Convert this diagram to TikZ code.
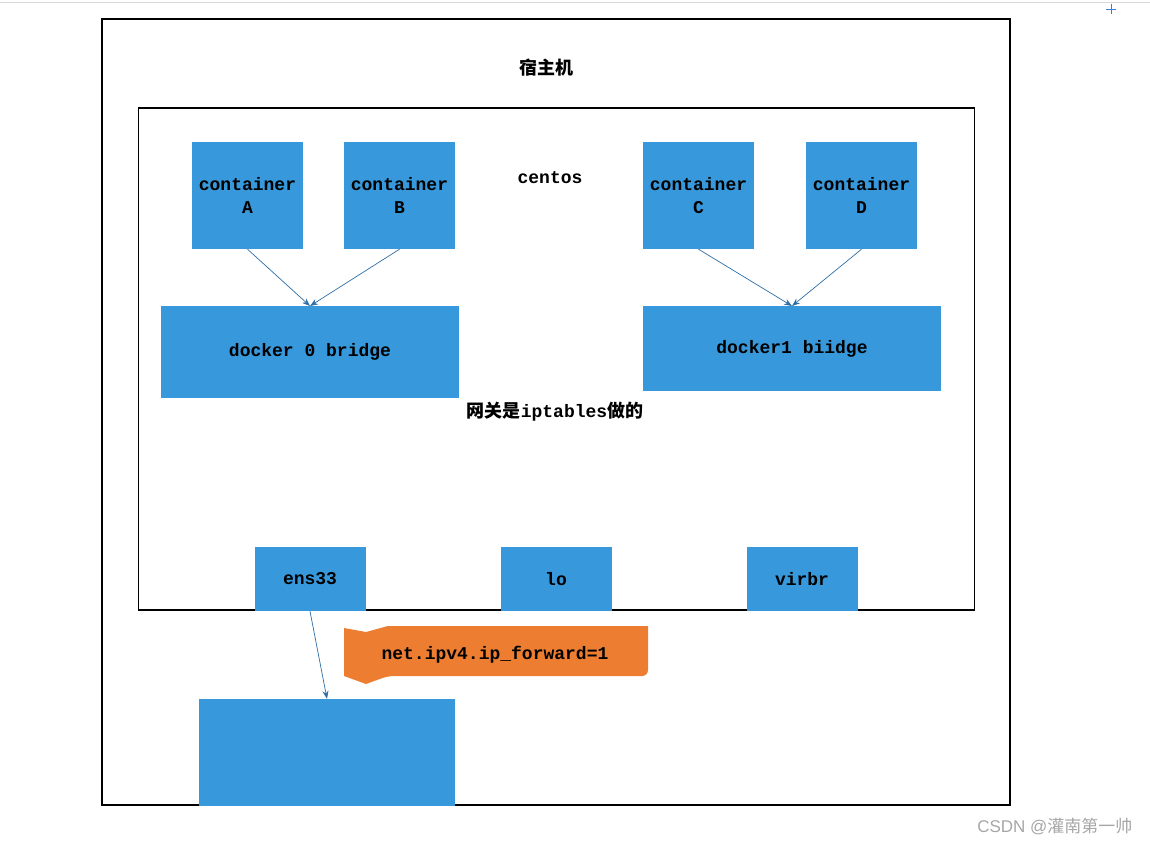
\documentclass[tikz,border=0pt]{standalone}
\usetikzlibrary{arrows.meta}
\usepackage{fontspec}
\setmainfont{Liberation Mono}
\newfontfamily\cjk{Noto Sans CJK SC}
\definecolor{bl}{HTML}{3798DB}
\definecolor{ar}{HTML}{2E6EA6}
\definecolor{og}{HTML}{ED7D31}
\definecolor{cr}{HTML}{3A7FD5}
\begin{document}
\begin{tikzpicture}[x=1pt,y=-1pt,
 box/.style={fill=bl,draw=none,inner sep=0,font=\bfseries\fontsize{18}{23}\selectfont,align=center},
 frame/.style={draw=black,line width=1.6pt},
 lbl/.style={font=\bfseries\fontsize{18}{22}\selectfont},
 arr/.style={draw=ar,line width=0.7pt,-{Stealth[length=8pt,width=6pt]}}]
\useasboundingbox (0,0) rectangle (1150,844);
\draw[gray!30,line width=1pt] (0,2) -- (1150,2);
\draw[cr,line width=0.9pt] (1106,9) -- (1116,9) (1111,4) -- (1111,14);
\node[frame,minimum width=908,minimum height=786,inner sep=0] (host) at (556,412) {};
\node[frame,minimum width=836,minimum height=502,inner sep=0] (centos) at (556.5,359) {};
\node[lbl] (hl) at (546,68) {\cjk 宿主机};
\node[lbl] (cl) at (550,178) {centos};
\node[box,minimum width=111,minimum height=107] (A) at (247.5,195.5) {container\\A};
\node[box,minimum width=111,minimum height=107] (B) at (399.5,195.5) {container\\B};
\node[box,minimum width=111,minimum height=107] (C) at (698.5,195.5) {container\\C};
\node[box,minimum width=111,minimum height=107] (D) at (861.5,195.5) {container\\D};
\node[box,minimum width=298,minimum height=92] (d0) at (310,352) {docker 0 bridge};
\node[box,minimum width=298,minimum height=85] (d1) at (792,348.5) {docker1 biidge};
\node[lbl] (gw) at (555,412) {{\cjk 网关是}iptables{\cjk 做的}};
\node[box,minimum width=111,minimum height=64] (e) at (310,579) {ens33};
\node[box,minimum width=111,minimum height=64] (lo) at (556,579) {lo};
\node[box,minimum width=111,minimum height=64] (v) at (802,579) {virbr};
\node[box,minimum width=256,minimum height=107] (out) at (327,752.5) {};
\draw[arr] (A.south) -- (310,306);
\draw[arr] (B.south) -- (310,306);
\draw[arr] (C.south) -- (792,306);
\draw[arr] (D.south) -- (792,306);
\draw[arr] (e.south) -- (out.north);
\fill[og,rounded corners=6pt] (648,626) -- (648,676) -- (388,676) [sharp corners] -- (366,684) -- (344,676) -- (344,628) -- (366,632) -- (388,626) -- cycle;
\node[lbl] (fw) at (495,655) {net.ipv4.ip\_forward=1};
\node[font=\fontsize{17}{20}\selectfont,text=gray!70,anchor=east] (wm) at (1136,826) {{\fontspec{Liberation Sans}CSDN @}{\cjk 灌南第一帅}};
\end{tikzpicture}
\end{document}
